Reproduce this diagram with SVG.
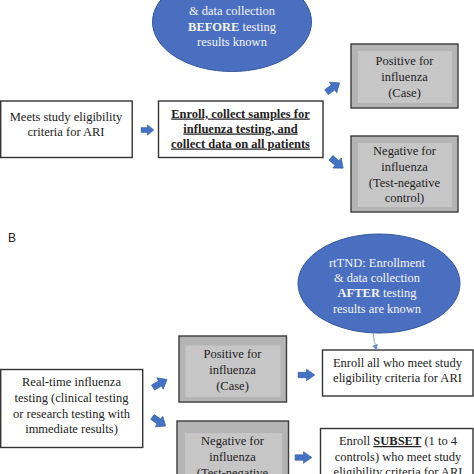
<svg xmlns="http://www.w3.org/2000/svg" width="474" height="474" viewBox="0 0 474 474">
<style>
  .t { font-family: "Liberation Serif", "Times New Roman", serif; font-size: 12.5px; fill: #222; text-anchor: middle; }
  .w { font-family: "Liberation Serif", "Times New Roman", serif; font-size: 12.5px; fill: #f4f4f4; text-anchor: middle; }
  .bu { font-weight: bold; text-decoration: underline; }
  .box { fill: #ffffff; stroke: #333333; stroke-width: 1.4; }
  .gout { fill: #b4b4b4; stroke: #3c3c3c; stroke-width: 1.4; }
  .gin { fill: #c6c6c6; }
  .ell { fill: #4a6fc1; stroke: #35589f; stroke-width: 1; }
  .arr { fill: #4472c4; stroke: #2f5597; stroke-width: 0.6; }
  .conn { fill: none; stroke: #8aa2c8; stroke-width: 1; }
</style>
<defs>
  <path id="blk" d="M-8,-3 H0 V-6.5 L8,0 L0,6.5 V3 H-8 Z"/>
  <marker id="ah" viewBox="0 0 6 6" refX="5" refY="3" markerWidth="6" markerHeight="6" orient="auto" markerUnits="userSpaceOnUse">
    <path d="M0,0 L6,3 L0,6 Z" fill="#6f8fc4"/>
  </marker>
</defs>
<rect width="474" height="474" fill="#ffffff"/>

<!-- Panel A -->
<g id="ellipseA">
  <ellipse class="ell" cx="232" cy="22" rx="79.5" ry="49.5"/>
  <text class="w" x="232" y="15">&amp; data collection</text>
  <text class="w" x="232" y="30.5"><tspan font-weight="bold">BEFORE</tspan> testing</text>
  <text class="w" x="232" y="46">results known</text>
</g>
<g id="meetsA">
  <rect class="box" x="0.7" y="101" width="131.5" height="56.5"/>
  <text class="t" x="66" y="121">Meets study eligibility</text>
  <text class="t" x="66" y="136">criteria for ARI</text>
</g>
<g id="enrollA">
  <rect class="box" x="158.5" y="101" width="164.5" height="56.5"/>
  <text class="t bu" x="240.5" y="117.5">Enroll, collect samples for</text>
  <text class="t bu" x="240.5" y="132.5">influenza testing, and</text>
  <text class="t bu" x="240.5" y="147.5">collect data on all patients</text>
</g>
<g id="posA">
  <rect class="gout" x="351" y="44" width="107" height="64"/>
  <rect class="gin" x="358" y="51" width="94" height="52"/>
  <text class="t" x="404.5" y="65">Positive for</text>
  <text class="t" x="404.5" y="81">influenza</text>
  <text class="t" x="404.5" y="96.5">(Case)</text>
</g>
<g id="negA">
  <rect class="gout" x="351" y="136" width="107" height="76"/>
  <rect class="gin" x="358" y="143" width="94" height="64"/>
  <text class="t" x="404.5" y="155">Negative for</text>
  <text class="t" x="404.5" y="171">influenza</text>
  <text class="t" x="404.5" y="186.5">(Test-negative</text>
  <text class="t" x="404.5" y="202">control)</text>
</g>

<text x="8" y="242" font-family="Liberation Sans, Arial, sans-serif" font-size="12" fill="#222">B</text>

<!-- Panel B -->
<g id="ellipseB">
  <ellipse class="ell" cx="379" cy="283.5" rx="81" ry="49.5"/>
  <text class="w" x="377" y="267">rtTND: Enrollment</text>
  <text class="w" x="377" y="282">&amp; data collection</text>
  <text class="w" x="377" y="297"><tspan font-weight="bold">AFTER</tspan> testing</text>
  <text class="w" x="377" y="312.5">results are known</text>
</g>
<g id="realtimeB">
  <rect class="box" x="0.7" y="369.5" width="142" height="78"/>
  <text class="t" x="71.5" y="386">Real-time influenza</text>
  <text class="t" x="71.5" y="402">testing (clinical testing</text>
  <text class="t" x="71.5" y="417.5">or research testing with</text>
  <text class="t" x="71.5" y="433">immediate results)</text>
</g>
<g id="posB">
  <rect class="gout" x="179" y="336" width="107.5" height="66"/>
  <rect class="gin" x="185.5" y="345.5" width="95" height="51.5"/>
  <text class="t" x="232.5" y="358">Positive for</text>
  <text class="t" x="232.5" y="374">influenza</text>
  <text class="t" x="232.5" y="389.5">(Case)</text>
</g>
<g id="negB">
  <rect class="gout" x="177" y="421" width="111.5" height="60"/>
  <rect class="gin" x="185" y="433" width="97" height="48"/>
  <text class="t" x="232.5" y="445">Negative for</text>
  <text class="t" x="232.5" y="461">influenza</text>
  <text class="t" x="232.5" y="476.5">(Test-negative</text>
</g>
<g id="enrollAllB">
  <rect class="box" x="322.5" y="350" width="150.5" height="46"/>
  <text class="t" x="397.5" y="366.5">Enroll all who meet study</text>
  <text class="t" x="397.5" y="382">eligibility criteria for ARI</text>
</g>
<g id="enrollSubsetB">
  <rect class="box" x="320.5" y="428.5" width="152.5" height="52"/>
  <text class="t" x="398" y="445">Enroll <tspan class="bu">SUBSET</tspan> (1 to 4</text>
  <text class="t" x="398" y="460.5">controls) who meet study</text>
  <text class="t" x="398" y="475.5">eligibility criteria for ARI</text>
</g>

<!-- Connectors -->
<g id="connectors">
  <use href="#blk" class="arr" transform="translate(147.5,130) scale(0.8)"/>
  <use href="#blk" class="arr" transform="translate(333,87.5) rotate(-35)"/>
  <use href="#blk" class="arr" transform="translate(337,163) rotate(40)"/>
  <use href="#blk" class="arr" transform="translate(160,383.5) rotate(-30)"/>
  <use href="#blk" class="arr" transform="translate(159,421.5) rotate(35)"/>
  <use href="#blk" class="arr" transform="translate(306.5,375) scale(1.05,0.9)"/>
  <use href="#blk" class="arr" transform="translate(303.5,457.5) scale(1.05,0.9)"/>
  <path class="conn" d="M373,333 Q374,342 376.5,349.5" marker-end="url(#ah)"/>
</g>
</svg>
